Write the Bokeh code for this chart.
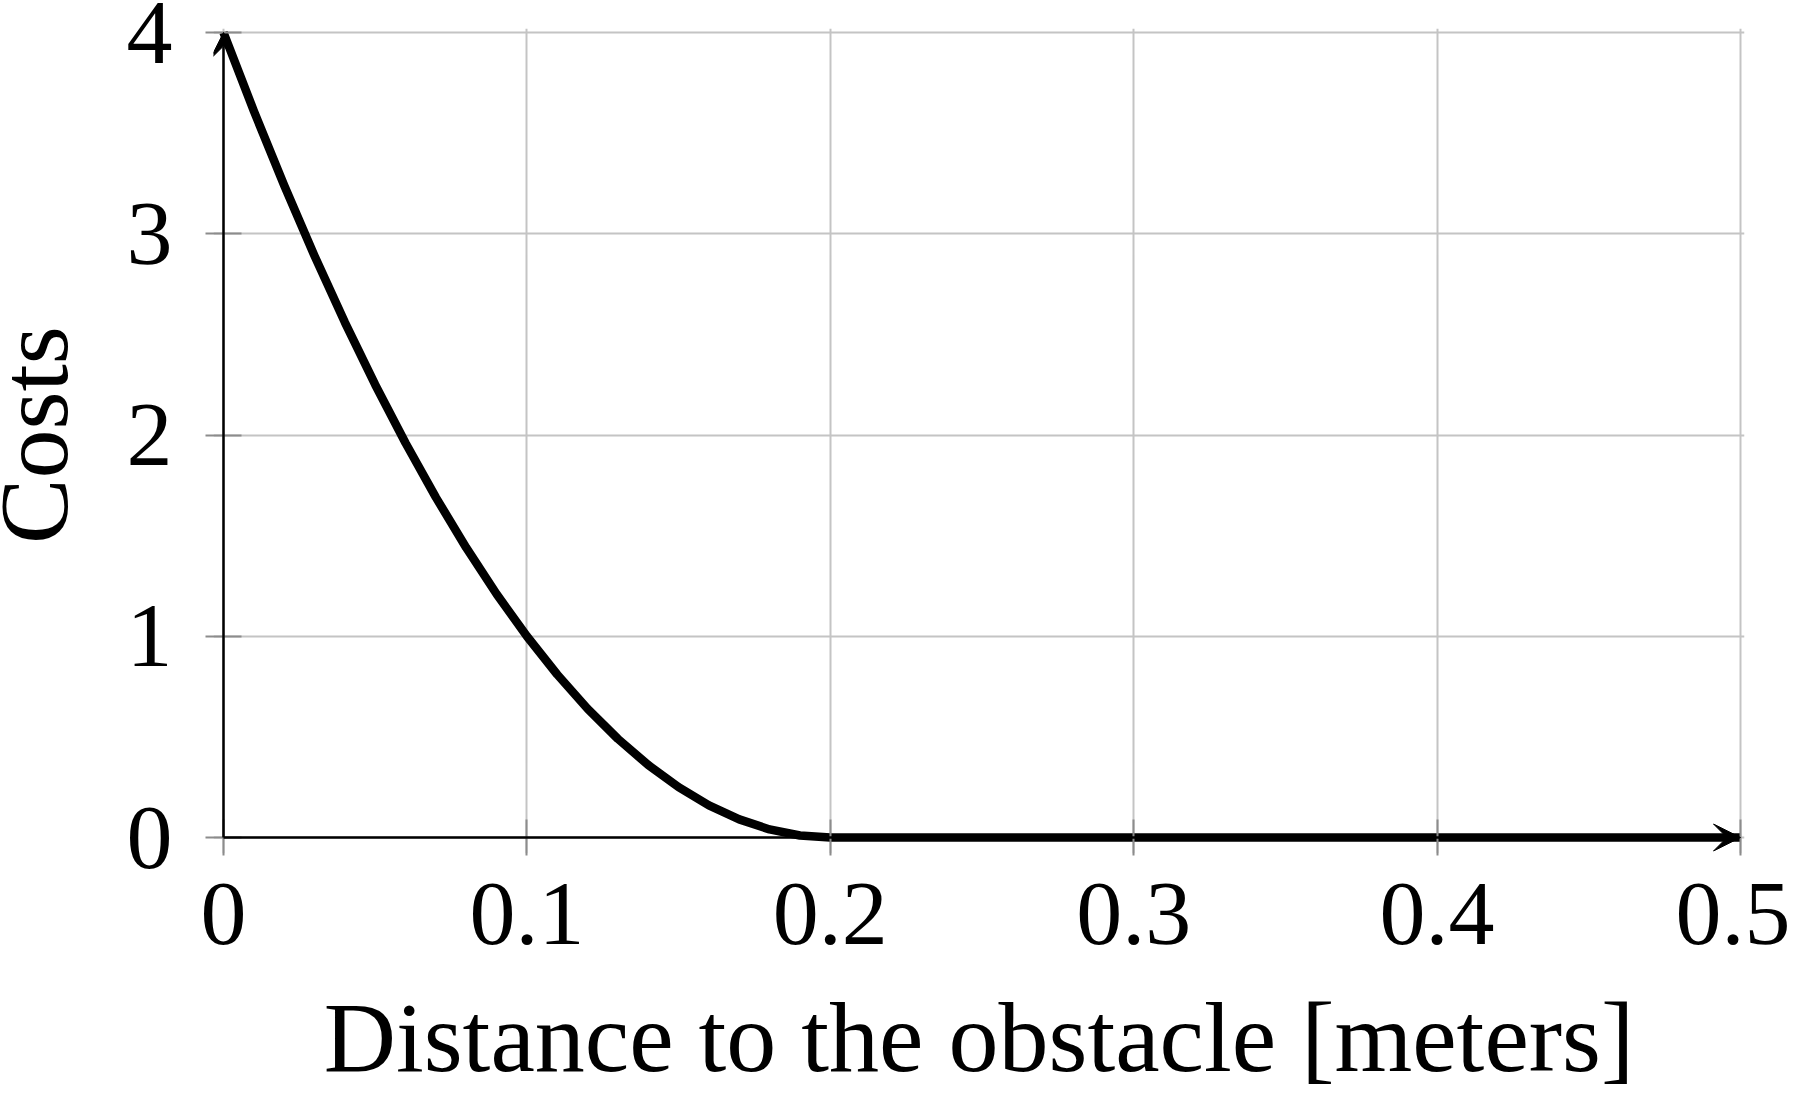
import math
from bokeh.plotting import figure
from bokeh.layouts import row
from bokeh.models import Range1d, FixedTicker, Arrow, VeeHead
from bokeh.core.properties import value
from bokeh.embed import file_html
from bokeh.resources import INLINE

# Data
distance = [0.00, 0.01, 0.02, 0.03, 0.04, 0.05, 0.06, 0.07, 0.08, 0.09, 0.10,
            0.11, 0.12, 0.13, 0.14, 0.15, 0.16, 0.17, 0.18, 0.19, 0.20, 0.50]
costs = [4.00, 3.61, 3.24, 2.89, 2.56, 2.25, 1.96, 1.69, 1.44, 1.21, 1.00,
         0.81, 0.64, 0.49, 0.36, 0.25, 0.16, 0.09, 0.04, 0.01, 0.00, 0.00]
x_ticks = [0, 0.1, 0.2, 0.3, 0.4, 0.5]
x_tick_labels = ["0", "0.1", "0.2", "0.3", "0.4", "0.5"]
y_ticks = [0, 1, 2, 3, 4]
y_tick_labels = ["0", "1", "2", "3", "4"]
x_title = "Distance to the obstacle [meters]"
y_title = "Costs"

FONT = "Liberation Serif"
H = 1098
SIDE_W = 100
MAIN_W = 1690

# plot area in pixels (distance 0..0.5, cost 0..4)
PLOT_LEFT, PLOT_W = 223, 1517
PLOT_TOP, PLOT_H = 32, 805
PAD_L, PAD_R, PAD_T, PAD_B = 10, 4, 4, 16
sx = PLOT_W / 0.5
sy = PLOT_H / 4.0

frame_left = PLOT_LEFT - PAD_L - SIDE_W
frame_w = PLOT_W + PAD_L + PAD_R
frame_top = PLOT_TOP - PAD_T
frame_h = PLOT_H + PAD_T + PAD_B

p = figure(width=MAIN_W, height=H, output_backend="svg", toolbar_location=None,
           x_range=Range1d(-PAD_L / sx, 0.5 + PAD_R / sx),
           y_range=Range1d(-PAD_B / sy, 4.0 + PAD_T / sy),
           min_border_left=frame_left, min_border_top=frame_top,
           min_border_right=MAIN_W - frame_left - frame_w,
           min_border_bottom=H - frame_top - frame_h)
p.outline_line_color = None
p.background_fill_color = "white"
p.border_fill_color = "white"

p.xaxis.ticker = FixedTicker(ticks=x_ticks)
p.yaxis.ticker = FixedTicker(ticks=y_ticks)
p.xaxis.major_label_overrides = {t: l for t, l in zip(x_ticks, x_tick_labels)}
p.yaxis.major_label_overrides = {t: l for t, l in zip(y_ticks, y_tick_labels)}

for ax in (p.xaxis, p.yaxis):
    ax.axis_line_color = None
    ax.minor_tick_line_color = None
    ax.major_tick_line_color = "#8c8c8c"
    ax.major_tick_line_width = 2
    ax.major_label_text_font = FONT
    ax.major_label_text_font_size = "92px"
    ax.major_label_text_color = "black"

p.xaxis.major_tick_in = 18 + PAD_B
p.xaxis.major_tick_out = 18 - PAD_B
p.yaxis.major_tick_in = 18 + PAD_L
p.yaxis.major_tick_out = 18 - PAD_L
p.xaxis.major_label_standoff = 28
p.yaxis.major_label_standoff = 33

p.xaxis.axis_label = x_title
p.xaxis.axis_label_text_font = FONT
p.xaxis.axis_label_text_font_size = "100px"
p.xaxis.axis_label_text_font_style = "normal"
p.xaxis.axis_label_text_color = "black"
p.xaxis.axis_label_standoff = 35

p.xgrid.ticker = FixedTicker(ticks=x_ticks)
p.ygrid.ticker = FixedTicker(ticks=y_ticks)
for g in (p.xgrid, p.ygrid):
    g.grid_line_color = "#c4c4c4"
    g.grid_line_width = 2

# axes with arrow heads
p.add_layout(Arrow(x_start=0, y_start=0, x_end=0, y_end=4, line_width=2.5,
                   line_color="black",
                   end=VeeHead(size=27, line_width=1, line_color="black",
                               fill_color="black")))
p.add_layout(Arrow(x_start=0, y_start=0, x_end=0.5, y_end=0, line_width=2.5,
                   line_color="black",
                   end=VeeHead(size=27, line_width=1, line_color="black",
                               fill_color="black")))

p.line(distance, costs, line_width=8.5, line_color="black", line_join="round")

# side strip carrying the vertical axis title (pixel coordinates)
s = figure(width=SIDE_W, height=H, output_backend="svg", toolbar_location=None,
           x_range=Range1d(0, SIDE_W), y_range=Range1d(H, 0),
           min_border=0, min_border_left=0, min_border_right=0,
           min_border_top=0, min_border_bottom=0)
s.axis.visible = False
s.grid.visible = False
s.outline_line_color = None
s.background_fill_color = "white"
s.border_fill_color = "white"
s.text(x=[33], y=[541], text=[y_title], angle=math.pi / 2,
       text_font=value(FONT), text_font_size="98px", text_color="black",
       text_align="center", text_baseline="middle")

layout = row(s, p, spacing=0)
open("out.html", "w").write(file_html(layout, INLINE))
